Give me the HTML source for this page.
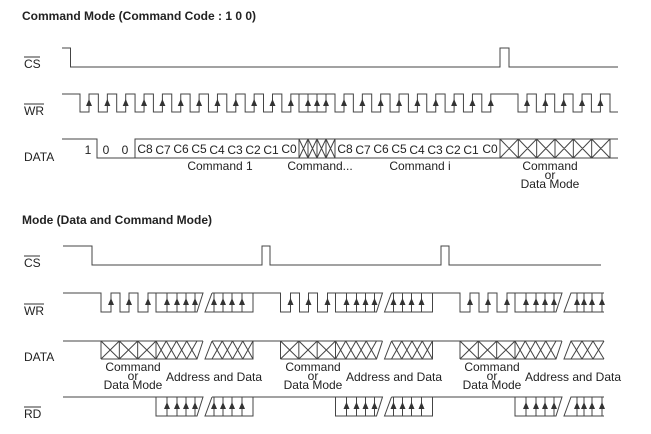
<!DOCTYPE html>
<html><head><meta charset="utf-8"><style>
html,body{margin:0;padding:0;background:#fff;}
svg{display:block;}
text{font-family:"Liberation Sans",Arial,sans-serif;font-size:12px;fill:#222;}
.b{font-weight:bold;fill:#222;font-size:12px;}
.m{text-anchor:middle;}
.s{font-size:11.5px;}
</style></head><body>
<svg id="s" width="651" height="434" viewBox="0 0 651 434" xmlns="http://www.w3.org/2000/svg">
<g id="g" fill="none" stroke="#444" stroke-width="1"></g>
<g id="a" fill="#333" stroke="none"></g>
<text x="22" y="20" class="b">Command Mode (Command Code : 1 0 0)</text>
<text x="22" y="224" class="b">Mode (Data and Command Mode)</text>
<text x="24" y="68">CS</text><line x1="24" y1="57" x2="40" y2="57" stroke="#333"/>
<text x="24" y="115">WR</text><line x1="24" y1="104" x2="44" y2="104" stroke="#333"/>
<text x="24" y="161">DATA</text>
<text x="24" y="267">CS</text><line x1="24" y1="256" x2="40" y2="256" stroke="#333"/>
<text x="24" y="315">WR</text><line x1="24" y1="304" x2="44" y2="304" stroke="#333"/>
<text x="24" y="361">DATA</text>
<text x="24" y="418">RD</text><line x1="24" y1="407" x2="41" y2="407" stroke="#333"/>
<g class="m s">
<text x="88" y="154">1</text><text x="106" y="154">0</text><text x="125" y="154">0</text>
<text x="145" y="153">C8</text><text x="163" y="154">C7</text><text x="181" y="153">C6</text><text x="199" y="153">C5</text><text x="217" y="154">C4</text><text x="235" y="154">C3</text><text x="253" y="154">C2</text><text x="271" y="154">C1</text><text x="289" y="153">C0</text>
<text x="345" y="153">C8</text><text x="363" y="154">C7</text><text x="381" y="153">C6</text><text x="399" y="153">C5</text><text x="417" y="154">C4</text><text x="435" y="154">C3</text><text x="453" y="154">C2</text><text x="471" y="154">C1</text><text x="490" y="153">C0</text>
<text x="220" y="170">Command 1</text>
<text x="320" y="170">Command...</text>
<text x="420" y="170">Command i</text>
<text x="550" y="170">Command</text><text x="550" y="179">or</text><text x="550" y="188">Data Mode</text>
</g>
<g class="m">
<text x="133" y="371">Command</text><text x="133" y="380">or</text><text x="133" y="389">Data Mode</text>
<text x="214" y="381">Address and Data</text>
<text x="313" y="371">Command</text><text x="313" y="380">or</text><text x="313" y="389">Data Mode</text>
<text x="394" y="381">Address and Data</text>
<text x="492" y="371">Command</text><text x="492" y="380">or</text><text x="492" y="389">Data Mode</text>
<text x="573" y="381">Address and Data</text>
</g>
</svg>
<script>
var G=document.getElementById('g'),A=document.getElementById('a'),NS='http://www.w3.org/2000/svg';
function L(d){var p=document.createElementNS(NS,'path');p.setAttribute('d',d);G.appendChild(p);}
function ar(x,top){var p=document.createElementNS(NS,'polygon');p.setAttribute('points',x+','+(top+5)+' '+(x-3)+','+(top+12)+' '+(x+3)+','+(top+12));A.appendChild(p);}
var P=18.35;
L('M62,48 H70.5 V67 H500 V48 H509 V67 H618');
var d='M62,94 H80';
for(var i=0;i<12;i++){var f=80+P*i;d+=' H'+f+' V112 H'+(f+9)+' V94';ar(f+9,94);}
d+=' H299 V112 H308 V94 M308,112 H317 V94 M317,112 H326 V94 H335 V112';
L('M299,94 H335');ar(308,94);ar(317,94);ar(326,94);
for(var k=0;k<9;k++){var f=335+P*k;if(k>0)d+=' H'+f+' V112';d+=' H'+(f+9)+' V94';ar(f+9,94);}
d+=' H518';
for(var k=0;k<5;k++){var f=518+P*k;d+=' H'+f+' V112 H'+(f+9)+' V94';ar(f+9,94);}
d+=' H610 V112 H618';L(d);
L('M62,139 H97 V158 H618 M135,158 V139 H618');
function X(x0,x1,n,t,b,v){var w=(x1-x0)/n;var s='';for(var i=0;i<n;i++){var a=x0+w*i,c=a+w;s+=' M'+a+','+t+' L'+c+','+b+' M'+a+','+b+' L'+c+','+t;}
 if(v){for(var i=0;i<=n;i++){var a=x0+w*i;s+=' M'+a+','+t+' V'+b;}}L(s);}
X(299,335,4,139,158,true);X(500,610,6,139,158,true);
L('M63,246 H92 V265 H262 V246 H270 V265 H441 V246 H449 V265 H601');
function block(o,t,b,last){
 L('M'+(156+o)+','+t+' V'+b+' H'+(197+o)+' L'+(203+o)+','+t+' H'+(156+o));
 [167,177,186,195].forEach(function(x){L('M'+(x+o)+','+b+' V'+t);ar(x+o,t);});
 if(!last){L('M'+(212+o)+','+t+' L'+(205+o)+','+b+' H'+(253+o)+' V'+t+' H'+(212+o));
  [214,223,232,242].forEach(function(x){L('M'+(x+o)+','+b+' V'+t);ar(x+o,t);});}
 else{L('M604,'+t+' H'+(212+o)+' L'+(205+o)+','+b+' H604');
  [577,584,592,602].forEach(function(x){L('M'+x+','+b+' V'+t);ar(x,t);});}
}
var offs=[0,179.5,359];
var prevW=63,prevR=63,prevD=63;
offs.forEach(function(o,gi){
 var last=gi==2;
 L('M'+prevW+',293 H'+(101+o)+' V312 H'+(111+o)+' V293 H'+(120+o)+' V312 H'+(129+o)+' V293 H'+(138+o)+' V312 H'+(148+o)+' V293 H'+(156+o));
 ar(111+o,293);ar(129+o,293);ar(148+o,293);
 block(o,293,312,last);
 L('M'+prevR+',397 H'+(156+o));
 block(o,397,416,last);
 prevW=253+o;prevR=253+o;
 var t=341,b=359;
 L('M'+prevD+','+t+' H'+(203+o)+' M'+(101+o)+','+b+' H'+(197+o)+' L'+(203+o)+','+t);
 X(101+o,156+o,3,t,b,true);
 X(156+o,197+o,4,t,b,false);
 if(!last){L('M'+(212+o)+','+t+' L'+(205+o)+','+b+' H'+(253+o)+' V'+t+' M'+(212+o)+','+t+' H'+(253+o));X(212+o,253+o,4,t,b,false);}
 else{L('M604,'+t+' H'+(212+o)+' L'+(205+o)+','+b+' H604');X(212+o,604,3,t,b,false);}
 prevD=212+o;
});
</script>
</body></html>
